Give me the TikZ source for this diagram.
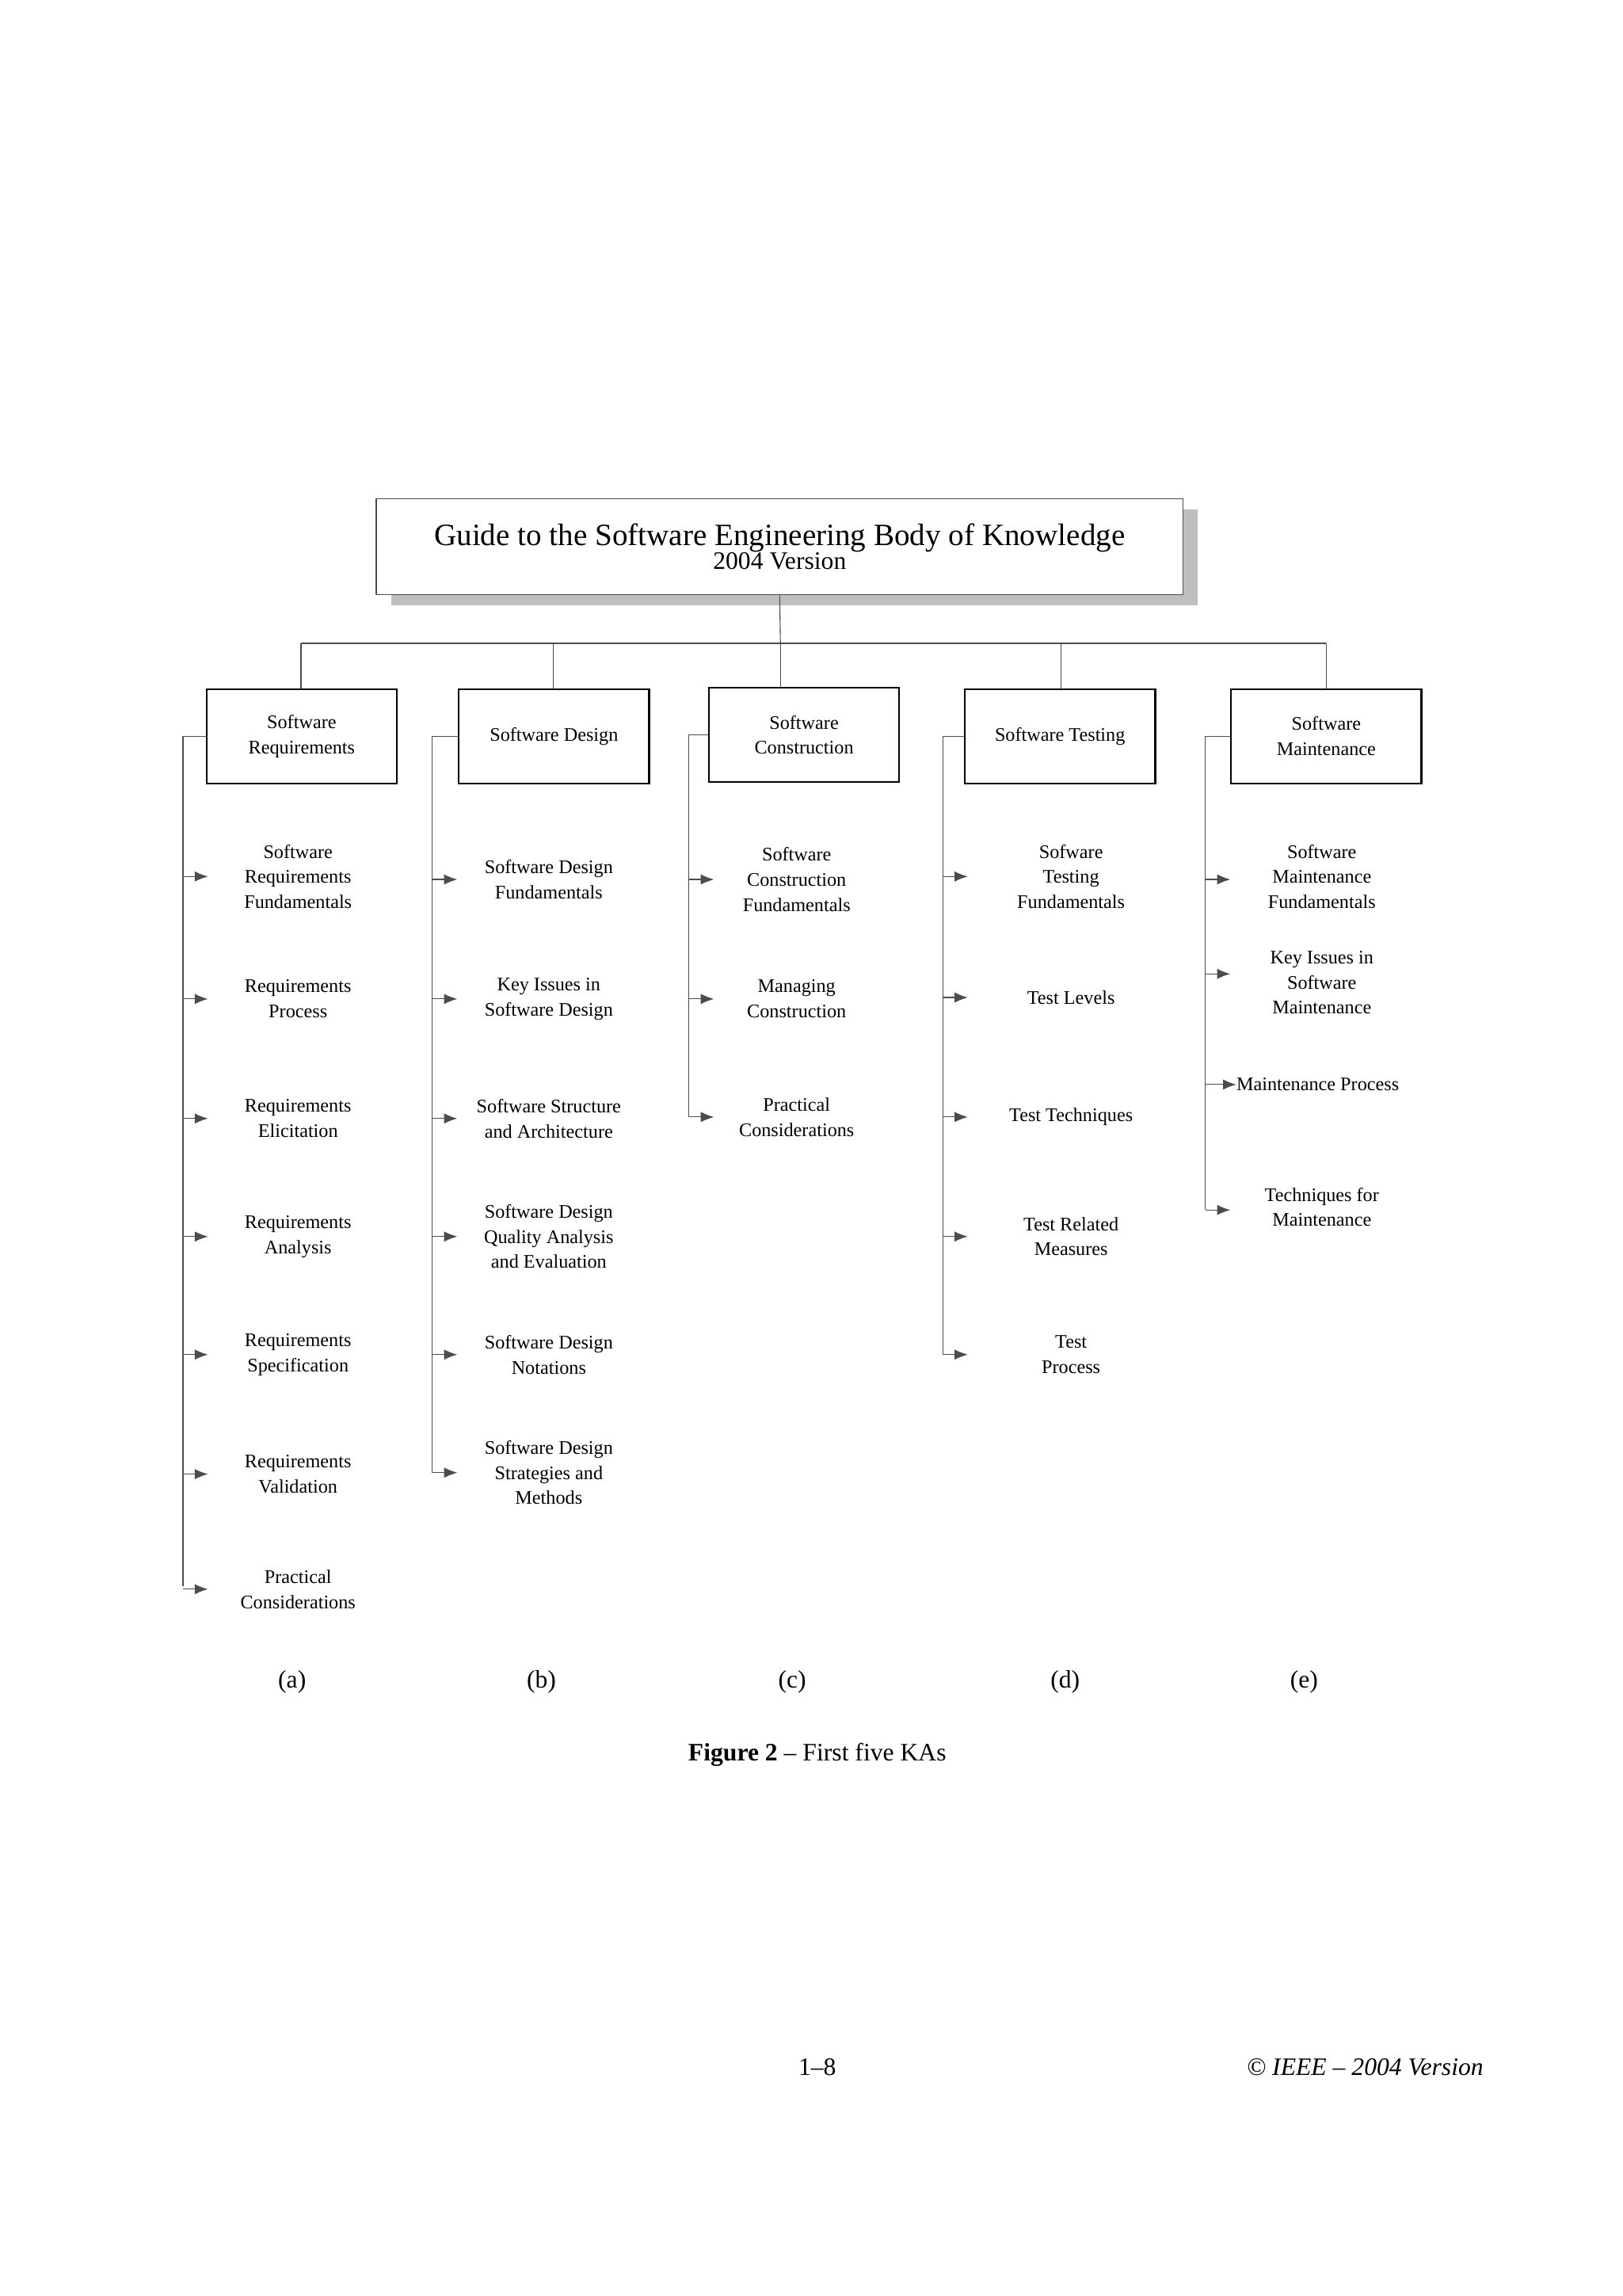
\documentclass[tikz,border=0pt]{standalone}
\usepackage{fontspec}
\setmainfont{Liberation Serif}
\usetikzlibrary{arrows.meta}
\begin{document}
\begin{tikzpicture}[x=1pt,y=-1pt,
  ka/.style={draw,line width=1.3pt,minimum width=129pt,minimum height=64pt,font=\fontsize{13}{17}\selectfont,align=center,inner sep=0},
  item/.style={font=\fontsize{13}{17}\selectfont,align=center,inner sep=0},
  ln/.style={draw=black!70,line width=0.6pt},
  arr/.style={ln,-{Latex[length=9pt,width=7pt]}}]
\useasboundingbox (0,0) rectangle (1100,1556);
\fill[black!25] (265,345) rectangle (812,410);
\node[draw=black!70,fill=white,line width=0.8pt,minimum width=547pt,minimum height=65pt,inner sep=0,align=center] (root) at (528.5,370.5) {\fontsize{21}{23}\selectfont Guide to the Software Engineering Body of Knowledge\\[-1pt]\fontsize{17}{20}\selectfont 2004 Version};
\node[ka] (a) at (204.5,499) {Software\\Requirements};
\node[ka] (b) at (375.5,499) {Software Design};
\node[ka] (c) at (545,498) {Software\\Construction};
\node[ka] (d) at (718.5,499) {Software Testing};
\node[ka] (e) at (899,499) {Software\\Maintenance};
\coordinate (j) at (529,436);
\draw[ln] (root.south) -- (j);
\draw[ln] (204,436) -- (899,436);
\foreach \k/\x in {a/204,b/375,d/719,e/899} \draw[ln] (\x,436) -- (\k.north -| \x,0);
\draw[ln] (j) -- (529,466);
% rails
\draw[ln] (a.west) -- (124,499) -- (124,1075);
\draw[ln] (b.west) -- (293,499) -- (293,998);
\draw[ln] (c.west) -- (467,498) -- (467,757);
\draw[ln] (d.west) -- (639,499) -- (639,918);
\draw[ln] (e.west) -- (817,499) -- (817,820);
% items a
\foreach \n/\y/\t in {a1/594/{Software\\Requirements\\Fundamentals},a2/677/{Requirements\\Process},a3/758/{Requirements\\Elicitation},a4/838/{Requirements\\Analysis},a5/918/{Requirements\\Specification},a6/999/{Requirements\\Validation},a7/1077/{Practical\\Considerations}}{
  \node[item] (\n) at (202,\y) {\t};
  \coordinate (\n r) at (124,\y);
  \draw[arr] (\n r) -- ++(17,0);}
\foreach \n/\y/\t in {b1/596/{Software Design\\Fundamentals},b2/677/{Key Issues in\\Software Design},b3/758/{Software Structure\\and Architecture},b4/838/{Software Design\\Quality Analysis\\and Evaluation},b5/918/{Software Design\\Notations},b6/998/{Software Design\\Strategies and\\Methods}}{
  \node[item] (\n) at (372,\y) {\t};
  \coordinate (\n r) at (293,\y);
  \draw[arr] (\n r) -- ++(17,0);}
\foreach \n/\y/\t in {c1/596/{Software\\Construction\\Fundamentals},c2/677/{Managing\\Construction},c3/757/{Practical\\Considerations}}{
  \node[item] (\n) at (540,\y) {\t};
  \coordinate (\n r) at (467,\y);
  \draw[arr] (\n r) -- ++(17,0);}
\foreach \n/\y/\t in {d1/594/{Sofware\\Testing\\Fundamentals},d2/676/{Test Levels},d3/757/{Test Techniques},d4/838/{Test Related\\Measures},d5/918/{Test\\Process}}{
  \node[item] (\n) at (726,\y) {\t};
  \coordinate (\n r) at (639,\y);
  \draw[arr] (\n r) -- ++(17,0);}
\foreach \n/\y/\ty/\t in {e1/596/594/{Software\\Maintenance\\Fundamentals},e2/660/666/{Key Issues in\\Software\\Maintenance},e4/820/818/{Techniques for\\Maintenance}}{
  \node[item] (\n) at (896,\ty) {\t};
  \coordinate (\n r) at (817,\y);
  \draw[arr] (\n r) -- ++(17,0);}
\node[item,anchor=west] (e3) at (838,735) {Maintenance Process};
\coordinate (e3r) at (817,735);
\draw[arr] (e3r) -- (e3.west);
% labels
\foreach \n/\x/\t in {la/198/a,lb/367/b,lc/537/c,ld/722/d,le/884/e}
  \node[font=\fontsize{17}{20}\selectfont] (\n) at (\x,1140) {(\t)};
\node[font=\fontsize{17}{20}\selectfont] (cap) at (554,1189) {\textbf{Figure 2} – First five KAs};
\node[font=\fontsize{17}{20}\selectfont] (pg) at (554,1401) {1–8};
\node[font=\fontsize{17}{20}\selectfont\itshape,anchor=east] (cp) at (1009,1401) {© IEEE – 2004 Version};
\end{tikzpicture}
\end{document}
